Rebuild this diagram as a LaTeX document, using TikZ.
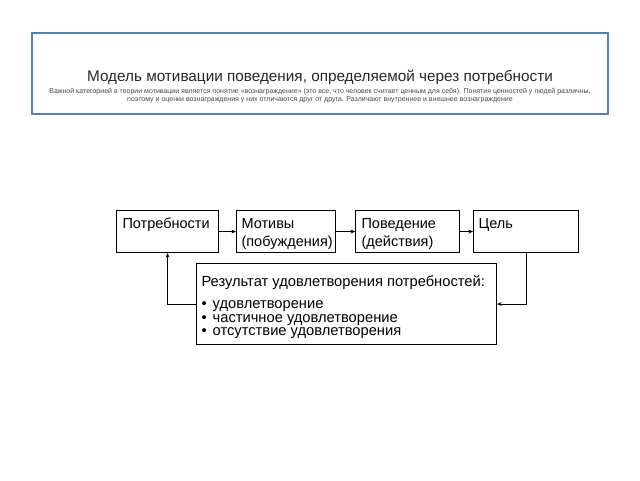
\documentclass[tikz,border=0pt]{standalone}
\usepackage{fontspec}
\setmainfont{Liberation Sans}
\usetikzlibrary{arrows.meta}
\definecolor{frameblue}{RGB}{79,129,189}
\definecolor{subgray}{RGB}{70,70,70}
\begin{document}
\begin{tikzpicture}[x=1pt,y=-1pt,
  box/.style={draw, line width=1.1pt, anchor=north west, inner sep=0pt, font=\fontsize{14.5}{18}\selectfont},
  conn/.style={line width=1.1pt, -{Stealth[length=4.5pt,width=4pt]}}]
\useasboundingbox (0,0) rectangle (640,480);
\draw[frameblue, line width=1.8pt] (32,33) rectangle (608,114);
\node[font=\fontsize{15.3}{18}\selectfont, text=black!85] (title) at (320,77) {Модель мотивации поведения, определяемой через потребности};
\node[font=\fontsize{7}{8.5}\selectfont, text=subgray, align=center] (sub) at (320,95.5) {Важной категорией в теории мотивации является понятие «вознаграждение» (это все, что человек считает ценным для себя). Понятия ценностей у людей различны,\\ поэтому и оценки вознаграждения у них отличаются друг от друга. Различают внутреннее и внешнее вознаграждение};

\node[box, minimum width=102pt, minimum height=42pt] (need) at (116,210) {\parbox[c][32pt][t]{90pt}{\strut Потребности}};
\node[box, minimum width=99pt, minimum height=42pt] (mot) at (236,210) {\parbox[c][32pt][t]{89pt}{\strut Мотивы\\(побуждения)}};
\node[box, minimum width=104pt, minimum height=42pt] (beh) at (355,210) {\parbox[c][32pt][t]{92pt}{\strut Поведение\\(действия)}};
\node[box, minimum width=105pt, minimum height=42pt] (goal) at (473,210) {\parbox[c][32pt][t]{95pt}{\strut Цель}};
\node[box, minimum width=300pt, minimum height=81pt, font=\fontsize{14.7}{13.3}\selectfont] (res) at (196,263) {\parbox[c][73pt][t]{290pt}{\raggedright\rule{0pt}{19pt}\mbox{Результат удовлетворения потребностей:}\\[9pt]\mbox{•\hspace{6pt}удовлетворение}\\\mbox{•\hspace{6pt}частичное удовлетворение}\\\mbox{•\hspace{6pt}отсутствие удовлетворения}}};

\draw[conn] (need.east) -- (mot.west);
\draw[conn] (mot.east) -- (beh.west);
\draw[conn] (beh.east) -- (goal.west);
\draw[conn] (res.west) -| (need.south);
\draw[conn] (goal.south) |- (res.east);
\end{tikzpicture}
\end{document}
